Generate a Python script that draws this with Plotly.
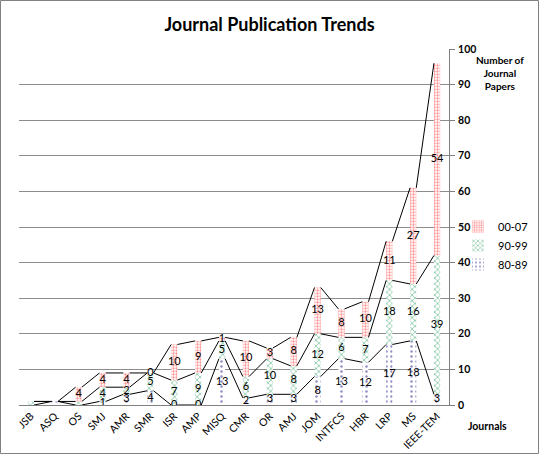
import plotly.graph_objects as go

journals = ["JSB", "ASQ", "OS", "SMJ", "AMR", "SMR", "ISR", "AMP", "MISQ", "CMR",
            "OR", "AMJ", "JOM", "INTFCS", "HBR", "LRP", "MS", "IEEE-TEM"]
s80_89 = [0, 1, 0, 1, 3, 4, 0, 0, 13, 2, 3, 3, 8, 13, 12, 17, 18, 3]
s90_99 = [1, 0, 1, 4, 2, 5, 7, 9, 5, 6, 10, 8, 12, 6, 7, 18, 16, 39]
s00_07 = [0, 0, 4, 4, 4, 0, 10, 9, 1, 10, 3, 8, 13, 8, 10, 11, 27, 54]
# categories whose small labels are not shown in the original
hidden_labels = {"JSB": (1, 1, 1), "ASQ": (1, 1, 1), "OS": (1, 1, 0)}

BAR_W = 0.26
FONT = "Lato"

x = list(range(len(journals)))
series = [
    ("80-89", s80_89, dict(fgcolor="#20208c", bgcolor="white", shape=".", size=5, solidity=0.2)),
    ("90-99", s90_99, dict(fgcolor="#008a40", bgcolor="white", shape="x", size=4, solidity=0.35)),
    ("00-07", s00_07, dict(fgcolor="#ff2a2a", bgcolor="white", shape=".", size=3, solidity=0.45)),
]

fig = go.Figure()
base = [0] * len(journals)
cum_levels = []
label_x, label_y, label_t = [], [], []
for si, (name, vals, pat) in enumerate(series):
    fig.add_trace(go.Bar(
        x=x, y=vals, base=base, name=name, width=BAR_W,
        marker=dict(color="white", pattern=pat, line=dict(width=0)),
        hoverinfo="skip",
    ))
    for i, v in enumerate(vals):
        hid = hidden_labels.get(journals[i])
        if hid and hid[si]:
            continue
        label_x.append(i)
        label_y.append(base[i] + v / 2)
        label_t.append(str(v))
    base = [b + v for b, v in zip(base, vals)]
    cum_levels.append(list(base))

# series lines connecting tops of adjacent bars
for lvl in cum_levels:
    lx, ly = [], []
    for i in range(len(journals) - 1):
        lx += [x[i] + BAR_W / 2, x[i + 1] - BAR_W / 2, None]
        ly += [lvl[i], lvl[i + 1], None]
    fig.add_trace(go.Scatter(x=lx, y=ly, mode="lines", line=dict(color="black", width=1),
                             showlegend=False, hoverinfo="skip"))

fig.add_trace(go.Scatter(x=label_x, y=label_y, text=label_t, mode="text",
                         textfont=dict(family=FONT, size=11, color="black"),
                         showlegend=False, hoverinfo="skip"))

L, R, T, B = 19, 90, 49, 49
W, H = 539, 454
pw, ph = W - L - R, H - T - B

fig.update_layout(
    width=W, height=H,
    margin=dict(l=L, r=R, t=T, b=B, pad=0, autoexpand=False),
    paper_bgcolor="white", plot_bgcolor="white",
    barmode="overlay",
    font=dict(family=FONT, size=10, color="black"),
    title=dict(text="<b>Journal Publication Trends</b>", x=0.5, xanchor="center",
               y=1 - 25 / H, yanchor="middle", font=dict(family=FONT, size=18, color="black")),
    xaxis=dict(range=[-0.5, len(journals) - 0.5], tickmode="array", tickvals=x, ticktext=journals,
               tickangle=-45, showgrid=False, zeroline=False, showline=True, linecolor="#808080",
               linewidth=1, ticks="", automargin=False,
               tickfont=dict(family=FONT, size=10.5, color="black")),
    yaxis=dict(range=[0, 100], dtick=10, side="right", showgrid=True, gridcolor="#8c8c8c",
               gridwidth=1, zeroline=False, showline=True, linecolor="#808080", linewidth=1,
               ticks="outside", ticklen=5, tickcolor="#808080", ticklabelstandoff=1, automargin=False,
               tickfont=dict(family=FONT, size=10.5, color="black"), tickprefix="<b>", ticksuffix="</b>"),
    legend=dict(x=(458 - L) / pw, y=(405 - 212) / ph, xanchor="left", yanchor="top",
                traceorder="reversed", font=dict(family=FONT, size=11, color="black"),
                bgcolor="rgba(0,0,0,0)", itemwidth=30, tracegroupgap=4),
    showlegend=True,
    shapes=[dict(type="rect", xref="paper", yref="paper",
                 x0=(0.5 - L) / pw, x1=(W - 0.5 - L) / pw,
                 y0=(405 - (H - 0.5)) / ph, y1=(405 - 0.5) / ph,
                 line=dict(color="#808080", width=1), fillcolor="rgba(0,0,0,0)", layer="above")],
    annotations=[
        dict(text="<b>Number of<br>Journal<br>Papers</b>", xref="paper", yref="paper",
             x=(500 - L) / pw, y=(405 - 73) / ph, xanchor="center", yanchor="middle",
             showarrow=False, font=dict(family=FONT, size=10, color="black"), align="center"),
        dict(text="<b>Journals</b>", xref="paper", yref="paper",
             x=(488 - L) / pw, y=(405 - 426) / ph, xanchor="center", yanchor="middle",
             showarrow=False, font=dict(family=FONT, size=10.5, color="black")),
    ],
)

fig.write_html("out.html", config={"displayModeBar": False},
               post_script="document.body.style.margin='0';")
